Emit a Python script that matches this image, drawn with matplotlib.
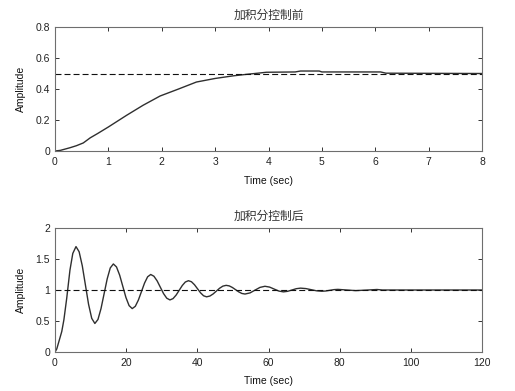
import matplotlib
matplotlib.use("Agg")
import matplotlib.pyplot as plt

plt.rcParams['font.family'] = ['Liberation Sans', 'Noto Sans CJK SC', 'DejaVu Sans']
plt.rcParams['lines.scale_dashes'] = False

# ---- data ----
title_top = "加积分控制前"
title_bottom = "加积分控制后"
xlabel = "Time (sec)"
ylabel = "Amplitude"

t_top = [0, 0.1, 0.28, 0.4, 0.53, 0.66, 0.8, 1.0, 1.34, 1.65, 1.97, 2.3, 2.65, 3.0,
         3.34, 3.6, 3.8, 3.96, 4.5, 4.6, 4.95, 5.0, 6.1, 6.2, 8.0]
y_top = [0, 0.004, 0.021, 0.034, 0.052, 0.085, 0.113, 0.155, 0.23, 0.295, 0.355, 0.398,
         0.445, 0.468, 0.485, 0.495, 0.502, 0.508, 0.51, 0.516, 0.516, 0.51, 0.51,
         0.502, 0.5]
ss_top = 0.5

t_bot = [0, 0.5, 1.0, 1.9, 2.5, 3.3, 4.2, 5.0, 5.9,
         6.78, 7.67, 8.55, 9.43, 10.32, 11.2,
         12.07, 12.93, 13.8, 14.67, 15.53, 16.4,
         17.28, 18.17, 19.05, 19.93, 20.82, 21.7,
         22.57, 23.43, 24.3, 25.17, 26.03, 26.9,
         27.8, 28.7, 29.6, 30.5, 31.4, 32.3,
         33.17, 34.03, 34.9, 35.77, 36.63, 37.5,
         38.35, 39.2, 40.05, 40.9, 41.75, 42.6,
         43.52, 44.43, 45.35, 46.27, 47.18, 48.1,
         48.98, 49.87, 50.75, 51.63, 52.52, 53.4,
         54.8, 56.2, 57.6, 59.0,
         60.3, 61.6, 62.9, 64.2,
         65.4, 66.6, 67.8, 69.0,
         70.5, 72.0, 73.5, 75.0,
         76.1, 77.25, 78.4, 79.5,
         82.0, 84.5, 88.0, 90.5, 92.0, 120.0]
y_bot = [0, 0.05, 0.15, 0.33, 0.52, 0.87, 1.32, 1.59, 1.70,
         1.617, 1.39, 1.08, 0.77, 0.543, 0.46,
         0.524, 0.70, 0.94, 1.18, 1.356, 1.42,
         1.372, 1.24, 1.06, 0.88, 0.748, 0.70,
         0.737, 0.8375, 0.975, 1.1125, 1.213, 1.25,
         1.222, 1.1475, 1.045, 0.9425, 0.868, 0.84,
         0.861, 0.9175, 0.995, 1.0725, 1.129, 1.15,
         1.133, 1.085, 1.02, 0.955, 0.907, 0.89,
         0.9024, 0.936, 0.9825, 1.029, 1.0626, 1.075,
         1.066, 1.04, 1.005, 0.97, 0.944, 0.935,
         0.953, 0.9975, 1.042, 1.06,
         1.047, 1.015, 0.983, 0.97,
         0.979, 1.0, 1.021, 1.03,
         1.023, 1.005, 0.987, 0.98,
         0.984, 0.995, 1.006, 1.01,
         1.0, 0.99, 1.0, 1.008, 1.0, 1.0]
ss_bot = 1.0

fig = plt.figure(figsize=(5.15, 3.91), dpi=100)
W, H = 515, 391
ax1 = fig.add_axes([55 / W, 1 - 151 / H, 427 / W, 124 / H])
ax2 = fig.add_axes([55 / W, 1 - 352 / H, 427 / W, 124 / H])

line_c = '#2f2f2f'
spine_c = '#6e6e6e'
fs = 7.5
tfs = 8.5

def style(ax):
    for s in ax.spines.values():
        s.set_color(spine_c)
        s.set_linewidth(0.8)
    ax.tick_params(direction='in', length=3, width=0.7, color='#333333',
                   labelsize=fs, top=True, right=True, labelcolor='#222222')
    ax.tick_params(axis='x', pad=4)
    ax.tick_params(axis='y', pad=3.5)

ax1.plot(t_top, y_top, color=line_c, lw=1.0)
ax1.plot([0, 8], [ss_top, ss_top], color='#111111', lw=0.8, linestyle=(0, (4.3, 2.2)))
ax1.set_xlim(0, 8)
ax1.set_ylim(0, 0.8)
ax1.set_xticks(range(0, 9))
ax1.set_yticks([0, 0.2, 0.4, 0.6, 0.8])
ax1.set_yticklabels(['0', '0.2', '0.4', '0.6', '0.8'])
style(ax1)
ax1.set_title(title_top, fontsize=tfs, color='#333333', pad=6)
ax1.set_xlabel(xlabel, fontsize=fs, color='#111111', labelpad=7)
ax1.set_ylabel(ylabel, fontsize=fs, color='#111111', labelpad=7)

ax2.plot(t_bot, y_bot, color=line_c, lw=1.0)
ax2.plot([0, 120], [ss_bot, ss_bot], color='#111111', lw=0.8, linestyle=(0, (4.3, 2.2)))
ax2.set_xlim(0, 120)
ax2.set_ylim(0, 2)
ax2.set_xticks(range(0, 121, 20))
ax2.set_yticks([0, 0.5, 1, 1.5, 2])
ax2.set_yticklabels(['0', '0.5', '1', '1.5', '2'])
style(ax2)
ax2.set_title(title_bottom, fontsize=tfs, color='#333333', pad=6)
ax2.set_xlabel(xlabel, fontsize=fs, color='#111111', labelpad=6)
ax2.set_ylabel(ylabel, fontsize=fs, color='#111111', labelpad=7)

fig.savefig('out.png', dpi=100, facecolor='white')
